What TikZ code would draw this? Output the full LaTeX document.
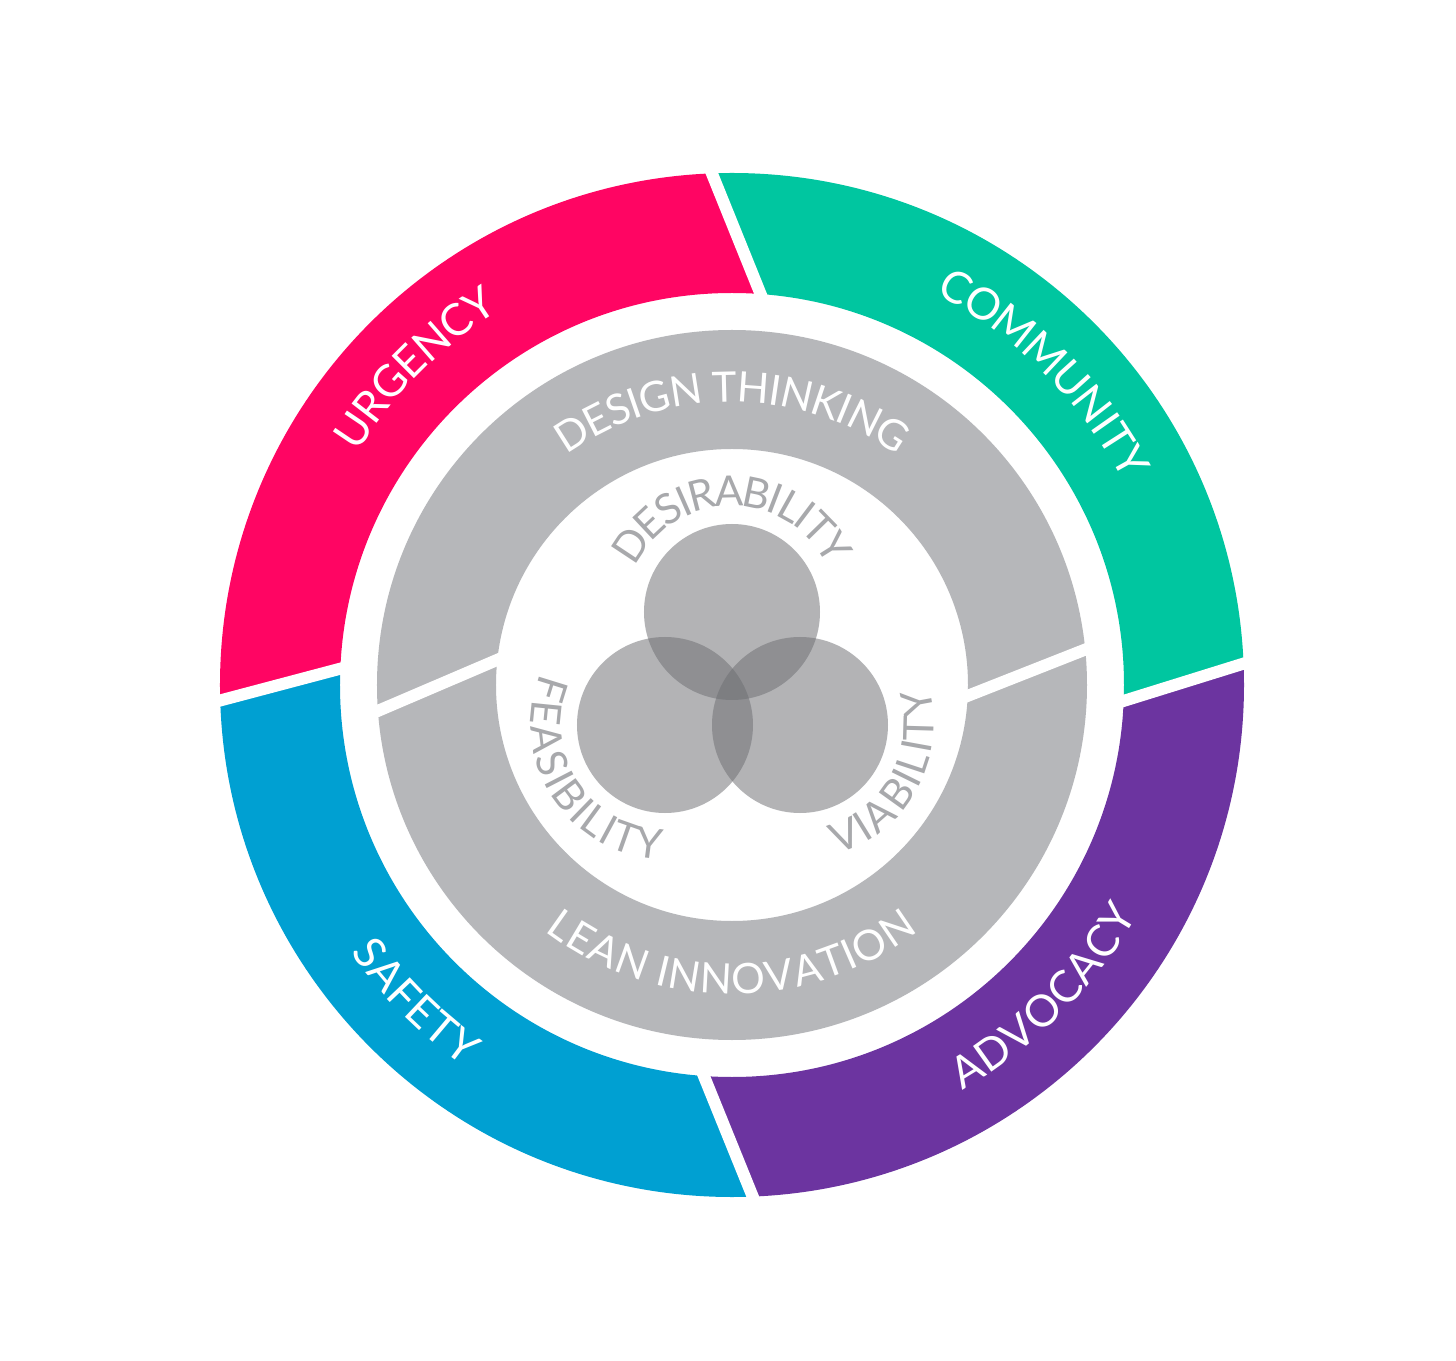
\documentclass[tikz,border=0pt]{standalone}
\usepackage{fontspec}
\setmainfont{Lato}
\usetikzlibrary{decorations.text}
\definecolor{cpink}{HTML}{FF0563}
\definecolor{cgreen}{HTML}{00C6A0}
\definecolor{cpurple}{HTML}{6C34A0}
\definecolor{cblue}{HTML}{00A0D2}
\definecolor{cgray}{HTML}{B6B7BA}
\definecolor{cvenn}{RGB}{110,111,115}
\definecolor{ctext}{HTML}{A8A9AC}
\tikzset{
  ringtxt/.style={decorate,decoration={text along path,text align=center,raise=-7pt}},
  graytxt/.style={decorate,decoration={text along path,text align=center,raise=-6.5pt}},
  inntxt/.style={decorate,decoration={text along path,text align=center,raise=-7pt}},
  divider/.style={white,line width=6pt},
  venn/.style={fill=cvenn,fill opacity=0.52}
}
\begin{document}
\begin{tikzpicture}[x=0.5pt,y=0.5pt]
\useasboundingbox[fill=white] (-732,-675) rectangle (724,685);
\coordinate (c) at (0,0);
\begin{scope}\clip (0,0)--(-340,30)--(-646,-51)--(-720,720)--(-78,655)--(52,333)--cycle;
\fill[cpink,even odd rule] (c) circle[radius=512] (c) circle[radius=392];\end{scope}
\begin{scope}\clip (0,0)--(52,333)--(-78,655)--(720,720)--(642,62)--(340,-32)--cycle;
\fill[cgreen,even odd rule] (c) circle[radius=512] (c) circle[radius=392];\end{scope}
\begin{scope}\clip (0,0)--(340,-32)--(642,62)--(720,-720)--(76,-648)--(-50,-337)--cycle;
\fill[cpurple,even odd rule] (c) circle[radius=512] (c) circle[radius=392];\end{scope}
\begin{scope}\clip (0,0)--(-50,-337)--(76,-648)--(-720,-720)--(-646,-51)--(-340,30)--cycle;
\fill[cblue,even odd rule] (c) circle[radius=512] (c) circle[radius=392];\end{scope}
\draw[divider] (52,333)--(-78,655);
\draw[divider] (-340,30)--(-646,-51);
\draw[divider] (340,-32)--(642,62);
\draw[divider] (-50,-337)--(76,-648);
\fill[cgray,even odd rule] (c) circle[radius=355] (c) circle[radius=236];
\draw[divider] (-380,-37)--(-200,40);
\draw[divider] (210,-21)--(380,46);
\fill[venn] (0,73) circle[radius=88];
\fill[venn] (-67,-40) circle[radius=88];
\fill[venn] (68,-40) circle[radius=88];
\path[ringtxt,decoration={text={|\fontsize{22}{22}\selectfont\color{white}|URGENCY}}]
  (175:455) arc[start angle=175,end angle=95,radius=455];
\path[ringtxt,decoration={text={|\fontsize{22}{22}\selectfont\color{white}|COMMUNITY}}]
  (90:455) arc[start angle=90,end angle=0,radius=455];
\path[ringtxt,decoration={text={|\fontsize{22}{22}\selectfont\color{white}|SAFETY}}]
  (185:452) arc[start angle=185,end angle=265,radius=452];
\path[ringtxt,decoration={text={|\fontsize{22}{22}\selectfont\color{white}|ADVOCACY}}]
  (270:452) arc[start angle=270,end angle=360,radius=452];
\path[graytxt,decoration={text={|\fontsize{21}{21}\selectfont\color{white}|DESIGN THINKING}}]
  (150:296) arc[start angle=150,end angle=30,radius=296];
\path[graytxt,decoration={text={|\fontsize{21}{21}\selectfont\color{white}|LEAN INNOVATION}}]
  (210:296) arc[start angle=210,end angle=330,radius=296];
\path[inntxt,decoration={text={|\fontsize{21}{21}\selectfont\color{ctext}|DESIRABILITY}}]
  (0,73) ++(180:120) arc[start angle=180,end angle=0,radius=120];
\path[inntxt,decoration={text={|\fontsize{21}{21}\selectfont\color{ctext}|FEASIBILITY}}]
  (-67,-40) ++(133:120) arc[start angle=133,end angle=293,radius=120];
\path[inntxt,decoration={text={|\fontsize{21}{21}\selectfont\color{ctext}|VIABILITY}}]
  (68,-40) ++(266:120) arc[start angle=266,end angle=396,radius=120];
\end{tikzpicture}
\end{document}
